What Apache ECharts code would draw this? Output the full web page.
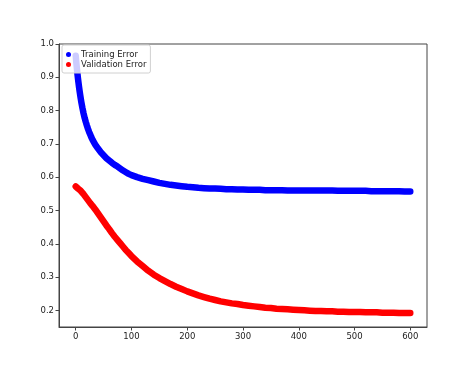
<!DOCTYPE html>
<html>
<head>
<meta charset="utf-8">
<script src="https://cdn.jsdelivr.net/npm/echarts@6/dist/echarts.min.js"></script>
<style>
  html, body { margin: 0; padding: 0; background: #fff; }
  #chart { width: 474px; height: 367px; }
</style>
</head>
<body>
<div id="chart"></div>
<script>
// epochs (denser where the curves drop fast)
var epochs = [0, 1, 2, 3, 4, 5, 6, 7, 8, 9, 10,
  12, 14, 16, 18, 20, 22, 24, 26, 28, 30,
  35, 40, 45, 50, 55, 60, 65, 70, 75, 80, 85, 90, 95, 100,
  110, 120, 130, 140, 150, 160, 170, 180, 190, 200,
  210, 220, 230, 240, 250, 260, 270, 280, 290, 300,
  310, 320, 330, 340, 350, 360, 370, 380, 390, 400,
  410, 420, 430, 440, 450, 460, 470, 480, 490, 500,
  510, 520, 530, 540, 550, 560, 570, 580, 590, 600];

var trainError = [0.965, 0.945, 0.928, 0.912, 0.897, 0.883, 0.870, 0.858, 0.847, 0.836, 0.826,
  0.808, 0.792, 0.778, 0.766, 0.755, 0.745, 0.736, 0.728, 0.720, 0.713,
  0.698, 0.686, 0.675, 0.666, 0.657, 0.650, 0.643, 0.637, 0.632, 0.626, 0.620, 0.615, 0.610, 0.606,
  0.600, 0.595, 0.591, 0.587, 0.583, 0.580, 0.577, 0.575, 0.573, 0.571,
  0.570, 0.568, 0.567, 0.566, 0.566, 0.565, 0.564, 0.564, 0.563, 0.563,
  0.562, 0.562, 0.562, 0.561, 0.561, 0.561, 0.561, 0.560, 0.560, 0.560,
  0.560, 0.560, 0.560, 0.560, 0.560, 0.560, 0.559, 0.559, 0.559, 0.559,
  0.559, 0.559, 0.558, 0.558, 0.558, 0.558, 0.558, 0.558, 0.557, 0.557];

var valError = [0.572, 0.571, 0.569, 0.568, 0.566, 0.565, 0.564, 0.562, 0.561, 0.559, 0.557,
  0.553, 0.549, 0.545, 0.540, 0.536, 0.531, 0.527, 0.522, 0.518, 0.514,
  0.503, 0.491, 0.479, 0.467, 0.455, 0.444, 0.432, 0.421, 0.411, 0.401, 0.391, 0.381, 0.372, 0.363,
  0.347, 0.333, 0.319, 0.307, 0.297, 0.288, 0.279, 0.271, 0.264, 0.257,
  0.251, 0.245, 0.240, 0.235, 0.231, 0.227, 0.224, 0.221, 0.219, 0.216,
  0.214, 0.212, 0.210, 0.208, 0.207, 0.205, 0.204, 0.203, 0.202, 0.201,
  0.200, 0.199, 0.198, 0.198, 0.197, 0.197, 0.196, 0.196, 0.195, 0.195,
  0.195, 0.194, 0.194, 0.194, 0.193, 0.193, 0.193, 0.192, 0.192, 0.192];

var xTicks = [0, 100, 200, 300, 400, 500, 600];
var yTicks = [0.2, 0.3, 0.4, 0.5, 0.6, 0.7, 0.8, 0.9, 1.0];

function pairs(ys) {
    return epochs.map(function (x, i) { return [x, ys[i]]; });
}

// the dense scatter of the original reads as a thick stroke, so draw it as one
function errorSeries(name, color, ys) {
    return {
        name: name,
        type: 'line',
        symbol: 'none',
        lineStyle: { color: color, width: 6.5, cap: 'round', join: 'round' },
        itemStyle: { color: color },
        data: pairs(ys)
    };
}

var font = 'DejaVu Sans';

var option = {
    backgroundColor: '#fff',
    animation: false,
    textStyle: { fontFamily: font },
    legend: {
        orient: 'vertical',
        left: 62,
        top: 45,
        itemWidth: 15,
        itemHeight: 5,
        itemGap: 1,
        padding: [5, 4, 4, 4],
        backgroundColor: 'rgba(255,255,255,0.8)',
        borderColor: '#d0d0d0',
        borderWidth: 1,
        borderRadius: 2,
        z: 10,
        textStyle: { fontSize: 8.5, color: '#222', fontFamily: font },
        data: [
            { name: 'Training Error', icon: 'circle' },
            { name: 'Validation Error', icon: 'circle' }
        ]
    },
    grid: {
        left: 59,
        right: 47,
        top: 44,
        bottom: 40,
        show: true,
        borderColor: '#444',
        borderWidth: 1
    },
    xAxis: {
        type: 'value',
        min: -30,
        max: 630,
        splitLine: { show: false },
        axisLine: { onZero: false, lineStyle: { color: '#444' } },
        axisTick: { show: true, length: 3.5, customValues: xTicks, lineStyle: { color: '#444' } },
        axisLabel: { customValues: xTicks, fontSize: 8.5, color: '#222', margin: 5, fontFamily: font }
    },
    yAxis: {
        type: 'value',
        min: 0.15,
        max: 1.0,
        splitLine: { show: false },
        axisLine: { show: true, onZero: false, lineStyle: { color: '#444' } },
        axisTick: { show: true, length: 3.5, customValues: yTicks, lineStyle: { color: '#444' } },
        axisLabel: {
            customValues: yTicks, fontSize: 8.5, color: '#222', margin: 5, fontFamily: font,
            formatter: function (v) { return v.toFixed(1); }
        }
    },
    series: [
        errorSeries('Training Error', '#0000ff', trainError),
        errorSeries('Validation Error', '#ff0000', valError)
    ]
};

var chart = echarts.init(document.getElementById('chart'));
chart.setOption(option);
</script>
</body>
</html>
